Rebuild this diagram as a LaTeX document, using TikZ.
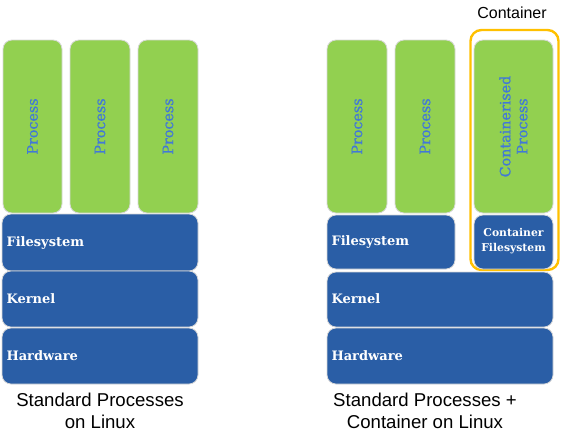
\documentclass[tikz,border=0pt]{standalone}
\usepackage{fontspec}
\setmainfont{DejaVu Serif}
\newfontfamily\capfont{Liberation Sans}
\newfontfamily\procfont[FakeBold=0.6]{DejaVu Serif}
\definecolor{procgreen}{HTML}{92D050}
\definecolor{layerblue}{HTML}{2A5EA6}
\definecolor{proctext}{HTML}{4178D8}
\definecolor{contorange}{HTML}{FFC000}
\definecolor{edgegrey}{HTML}{D8D8D8}
\tikzset{
  procbox/.style={draw=edgegrey, line width=0.8pt, fill=procgreen, rounded corners=9pt},
  layerbox/.style={draw=edgegrey, line width=0.8pt, fill=layerblue, rounded corners=9pt},
  proclabel/.style={text=proctext, font=\procfont\fontsize{14.3}{17}\selectfont, rotate=90, align=center},
  layerlabel/.style={text=white, font=\bfseries\fontsize{13}{16}\selectfont, anchor=west},
  caption/.style={font=\capfont\fontsize{18.6}{22}\selectfont, align=center},
}
\begin{document}
\begin{tikzpicture}[x=1pt,y=-1pt]
\useasboundingbox (0,0) rectangle (561,437);
% left stack
\draw[procbox] (3,40) rectangle (62,213);
\draw[procbox] (70,40) rectangle (130,213);
\draw[procbox] (138,40) rectangle (198,213);
\node[proclabel] (lp1) at (32.5,126.5) {Process};
\node[proclabel] (lp2) at (100,126.5) {Process};
\node[proclabel] (lp3) at (168,126.5) {Process};
\draw[layerbox] (2,214) rectangle (198,271);
\draw[layerbox] (2,271) rectangle (198,327);
\draw[layerbox] (2,328) rectangle (198,384);
\node[layerlabel] (lfs) at (3,242.5) {Filesystem};
\node[layerlabel] (lk) at (3,299) {Kernel};
\node[layerlabel] (lh) at (3,356) {Hardware};
\node[caption] (lcap) at (100,411) {Standard Processes\\on Linux};
% right stack
\draw[contorange, line width=2.4pt, rounded corners=11pt] (470.5,30) rectangle (558.5,270);
\node[font=\capfont\fontsize{16}{18}\selectfont] (ctitle) at (512,13) {Container};
\draw[procbox] (327,40) rectangle (387,213);
\draw[procbox] (395,40) rectangle (455,213);
\draw[procbox] (474,40) rectangle (553,213);
\node[proclabel] (rp1) at (357,126.5) {Process};
\node[proclabel] (rp2) at (425,126.5) {Process};
\node[proclabel] (rp3) at (513.5,126.5) {Containerised\\Process};
\draw[layerbox] (327,215) rectangle (455,269);
\draw[layerbox] (474,215) rectangle (553,269);
\draw[layerbox] (327,272) rectangle (553,327);
\draw[layerbox] (327,328) rectangle (553,384);
\node[layerlabel] (rfs) at (328,242) {Filesystem};
\node[text=white, font=\bfseries\fontsize{10.8}{15}\selectfont, align=center] (cfs) at (513.5,241.5) {Container\\Filesystem};
\node[layerlabel] (rk) at (328,299) {Kernel};
\node[layerlabel] (rh) at (328,356) {Hardware};
\node[caption] (rcap) at (425,411) {Standard Processes +\\Container on Linux};
\end{tikzpicture}
\end{document}
